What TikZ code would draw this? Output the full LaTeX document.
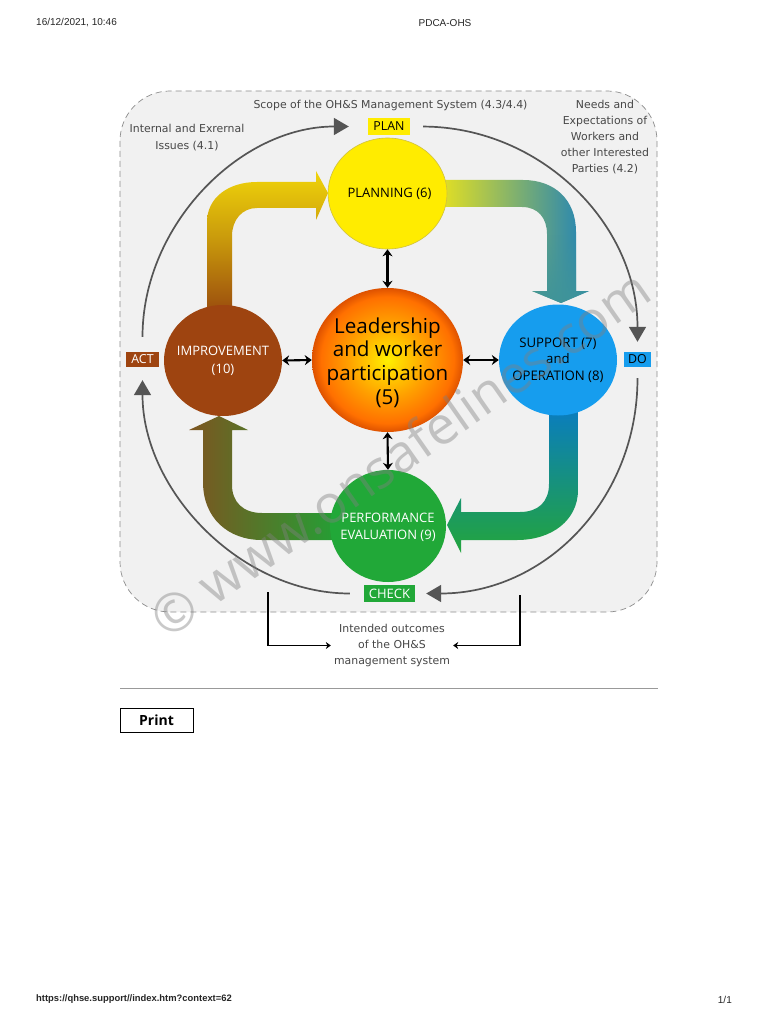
\documentclass[tikz,border=0pt]{standalone}
\usepackage{fontspec}
\setmainfont{Open Sans}
\newfontfamily\hdrfont{Liberation Sans}
\newfontfamily\notefont{DejaVu Sans}
\usetikzlibrary{arrows.meta,shapes.geometric,fadings}
\newcommand{\fsz}[2]{\fontsize{#1pt}{#2pt}\selectfont}
\definecolor{leadA}{RGB}{255,240,0}
\definecolor{leadB}{RGB}{255,215,0}
\definecolor{leadC}{RGB}{255,160,0}
\definecolor{leadD}{RGB}{255,112,0}
\definecolor{leadE}{RGB}{222,82,0}
\pgfdeclareradialshading{leadshade}{\pgfpoint{0bp}{0bp}}{
  color(0bp)=(leadA);
  color(4bp)=(leadB);
  color(13bp)=(leadC);
  color(22bp)=(leadD);
  color(25bp)=(leadE);
  color(50bp)=(leadE)}
\definecolor{arcgray}{HTML}{555555}
\definecolor{panel}{HTML}{F1F1F1}
\definecolor{planc}{HTML}{FFEC00}
\definecolor{planedge}{HTML}{CFC040}
\definecolor{actc}{HTML}{9E4410}
\definecolor{doc}{HTML}{169DEE}
\definecolor{checkc}{HTML}{21A838}
\definecolor{aTop}{HTML}{F0D40A}
\definecolor{aMid}{HTML}{C8980C}
\definecolor{aBot}{HTML}{9C4F0D}
\definecolor{bLeft}{HTML}{E4E022}
\definecolor{bMid}{HTML}{6FAC85}
\definecolor{bRight}{HTML}{1A80BC}
\definecolor{bHead}{HTML}{3F9499}
\definecolor{cTop}{HTML}{0A7DBE}
\definecolor{cMid}{HTML}{0F8C85}
\definecolor{cBot}{HTML}{23A53C}
\definecolor{dLeft}{HTML}{7D5520}
\definecolor{dMid}{HTML}{6A7028}
\definecolor{dRight}{HTML}{22A035}
\tikzset{
  x=1pt,y=-1pt,
  pdcalabel/.style={inner sep=0pt,minimum height=16pt,font=\fsz{12.4}{14},text=black},
  disc/.style={ellipse,inner sep=0pt},
  disctext/.style={align=center,inner sep=0pt},
  arc/.style={draw=arcgray,line width=1.7pt,-{Triangle[width=17pt,length=15pt]}},
  dbl/.style={draw=black,line width=2.1pt,{Stealth[width=10pt,length=7pt]}-{Stealth[width=10pt,length=7pt]}},
  brk/.style={draw=black,line width=1.9pt,-{Stealth[width=7pt,length=5pt]}},
  note/.style={inner sep=0pt,align=center,text=black!72,font=\notefont\fsz{10.9}{16.2}},
  hdr/.style={inner sep=0pt,font=\hdrfont\fsz{10}{11},text=black!85}
}
\begin{document}
\begin{tikzpicture}
\useasboundingbox (0,0) rectangle (768,1024);
\fill[white] (0,0) rectangle (768,1024);
\node[hdr,anchor=west] (date) at (36,23) {16/12/2021, 10:46};
\node[hdr] (title) at (445,23) {PDCA-OHS};
\node[hdr,anchor=west,font=\hdrfont\bfseries\fsz{9.4}{11}] (url) at (36,999.5) {https://qhse.support//index.htm?context=62};
\node[hdr,anchor=east] (pageno) at (732,999.5) {1/1};

\draw[draw=black!45,fill=panel,dashed,line width=.7pt,dash pattern=on 6pt off 4pt,rounded corners=50pt] (120,91) rectangle (657,612);

% block arrows
\shade[top color=aTop,bottom color=aBot,middle color=aMid]
 (207,310) -- (207,222) .. controls (207,198) and (228,182) .. (257,182) -- (316,182) -- (316,171) -- (328,193) -- (316,220) -- (316,208) -- (257,208) .. controls (242,208) and (232,220) .. (232,236) -- (232,310) -- cycle;
\begin{scope}
\clip (440,180) -- (523,180) .. controls (555,180) and (576,200) .. (576,232) -- (576,291) -- (589,291) -- (561,303) -- (532,291) -- (547,291) -- (547,234) .. controls (547,218) and (538,207) .. (522,207) -- (440,207) -- cycle;
\shade[left color=bLeft,middle color=bMid,right color=bRight] (440,170) rectangle (592,310);
\fill[color=bHead,path fading=north] (525,235) rectangle (595,305);
\end{scope}
\shade[top color=cTop,middle color=cMid,bottom color=cBot]
 (549,410) -- (578,410) -- (578,490) .. controls (578,520) and (552,540) .. (517,540) -- (461,540) -- (461,553) -- (447,525) -- (461,498) -- (461,512) -- (520,512) .. controls (538,512) and (549,502) .. (549,484) -- cycle;
\shade[left color=dLeft,middle color=dMid,right color=dRight]
 (340,513) -- (262,513) .. controls (243,513) and (232,502) .. (232,485) -- (232,430) -- (248,430) -- (219,416) -- (189,430) -- (203,430) -- (203,482) .. controls (203,518) and (228,540) .. (262,540) -- (340,540) -- cycle;

% discs
\node[disc,fill=planc,draw=planedge,line width=.6pt,minimum width=119pt,minimum height=111pt,
  label={[disctext,font=\fsz{13}{16},text=black,xshift=2pt]center:PLANNING (6)}] (planning) at (387.5,193.5) {};
\node[disc,fill=actc,minimum width=118pt,minimum height=111pt,
  label={[disctext,font=\fsz{13}{18},text=white]center:{IMPROVEMENT\\(10)}}] (improvement) at (223,360.5) {};
\node[disc,shading=leadshade,minimum width=151pt,minimum height=144pt,
  label={[disctext,font=\fsz{20.6}{23.7},text=black,yshift=-2.5pt]center:{Leadership\\and worker\\participation\\(5)}}] (leadership) at (387.5,360) {};
\node[disc,fill=doc,minimum width=118pt,minimum height=111pt,
  label={[disctext,font=\fsz{13.2}{16.6},text=black]center:{SUPPORT (7)\\and\\OPERATION (8)}}] (support) at (558,360) {};
\node[disc,fill=checkc,minimum width=116pt,minimum height=112pt,
  label={[disctext,font=\fsz{13}{17},text=white,yshift=-1pt]center:{PERFORMANCE\\EVALUATION (9)}}] (performance) at (388,526) {};

% phase labels
\node[pdcalabel,fill=planc,minimum width=42pt,minimum height=17pt] (plan) at (389,126.5) {PLAN};
\node[pdcalabel,fill=actc,text=white,minimum width=33pt,minimum height=15pt] (act) at (142.5,359.5) {ACT};
\node[pdcalabel,fill=doc,minimum width=27pt,minimum height=15pt] (do) at (637.5,359.5) {DO};
\node[pdcalabel,fill=checkc,text=white,minimum width=51pt,minimum height=17pt,font=\fsz{13}{14}] (check) at (389.5,593.5) {CHECK};

% PDCA ring
\draw[arc,shorten <=13pt,shorten >=10pt] (plan.east) .. controls (541,127) and (637.5,224) .. (do.north);
\draw[arc,shorten <=11pt,shorten >=11pt] (do.south) .. controls (637.5,500) and (545,593.5) .. (check.east);
\draw[arc,shorten <=14pt,shorten >=13pt] (check.west) .. controls (240,593.5) and (142.5,490) .. (act.south);
\draw[arc,shorten <=15pt,shorten >=19pt] (act.north) .. controls (142.5,225) and (240,126.5) .. (plan.west);

% two-way links
\draw[dbl] (planning.south) -- (leadership.north);
\draw[dbl] (improvement.east) -- (leadership.west);
\draw[dbl] (leadership.east) -- (support.west);
\draw[dbl] (leadership.south) -- (performance.north);

% notes
\node[note] (scope) at (390.5,105) {Scope of the OH\&S Management System (4.3/4.4)};
\node[note] (issues) at (187,137.5) {Internal and Exrernal\\Issues (4.1)};
\node[note] (needs) at (605,137) {Needs and\\Expectations of\\Workers and\\other Interested\\Parties (4.2)};
\node[note,minimum width=122pt] (outcomes) at (392,645.5) {Intended outcomes\\of the OH\&S\\management system};

\coordinate (bl) at (268,592);
\coordinate (br) at (520,595);
\draw[brk] (bl) |- (outcomes.west);
\draw[brk] (br) |- (outcomes.east);

% footer of the page
\draw[draw=black!40,line width=.7pt] (120,688) -- (658,688);
\node[draw=black,fill=white,line width=.8pt,minimum width=73pt,minimum height=24pt,inner sep=0pt,font=\fsz{14}{16}\bfseries] (print) at (156.5,720) {Print};

% watermark
\node[inner sep=0pt,rotate=35,text=black!50,text opacity=.42,font=\fsz{53}{60}] (wm) at (400,453) {© www.onsafelines.com};
\end{tikzpicture}
\end{document}
